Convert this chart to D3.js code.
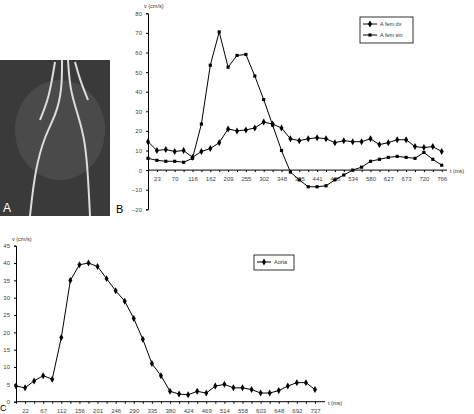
<!DOCTYPE html>
<html>
<head>
<meta charset="utf-8">
<script src="https://cdnjs.cloudflare.com/ajax/libs/d3/7.8.5/d3.min.js"></script>
<style>
  body { margin: 0; background: #fff; }
  svg { font-family: "Liberation Sans", Arial, sans-serif; }
  .tick text { font-size: 6px; fill: #444; }
</style>
</head>
<body>
<svg id="svg" width="474" height="414"></svg>
<script>
// panel B: femoral arteries, 34 frames
const femTicks = ['23','70','116','162','209','255','302','348','395','441','488','534','580','627','673','720','766'];
const femDx = [14.5,10,10.5,9.5,10,6.5,9.5,11,14,21,20,20.5,21.5,24.5,23.5,21.5,16,15,16,16.5,16,14,15,14.5,14.5,16,13,14,15.5,15.5,12,11.5,12,9.5];
const femSin = [6,5,4.5,4.5,4,6,23.5,53.5,70.5,52.5,58.5,59,48,36,23,10,-1,-5,-8.5,-8.5,-8,-5,-2.5,0,1.5,4.5,5.5,6.5,7,6.5,6,9,5.5,2.5];
// panel C: aorta
const aoTicks = ['22','67','112','156','201','246','290','335','380','424','469','514','558','603','648','692','737'];
const aorta = [4.5,4,6,7.5,6.5,18.5,35,39.5,40,39,35.5,32,29,24,18,11,7.5,3,2.2,2,3,2.5,4.5,5,4,4,3.5,2.5,2.5,3.2,4.5,5.5,5.5,3.5];

const svg = d3.select('#svg');

// panel A placeholder image (angiogram)
const gA = svg.append('g');
gA.append('rect').attr('x', 0).attr('y', 60).attr('width', 110).attr('height', 156).attr('fill', '#3a3a3a');
gA.append('ellipse').attr('cx', 60).attr('cy', 130).attr('rx', 45).attr('ry', 50).attr('fill', '#555').attr('opacity', 0.6);
const vessel = d3.line().curve(d3.curveBasis);
[[[62,60],[62,90],[56,115],[45,135],[35,170],[30,216]],
 [[68,60],[70,90],[78,115],[85,140],[88,175],[90,216]],
 [[55,62],[52,80],[48,100],[40,120]],
 [[75,62],[80,80],[88,100]]].forEach(p => {
  gA.append('path').attr('d', vessel(p)).attr('fill', 'none').attr('stroke', '#ddd').attr('stroke-width', 2);
});
svg.append('text').attr('x', 3).attr('y', 212).attr('fill', '#fff').attr('font-size', 12).text('A');

function drawLine(g, x, y, data, shape) {
  g.append('path').datum(data)
    .attr('fill', 'none').attr('stroke', '#000').attr('stroke-width', 1)
    .attr('d', d3.line().x((d, i) => x(i)).y(d => y(d)));
  g.selectAll(null).data(data).enter().append('path')
    .attr('transform', (d, i) => `translate(${x(i)},${y(d)})`)
    .attr('d', d3.symbol().type(shape).size(shape === d3.symbolSquare ? 10 : 14))
    .attr('fill', '#000');
}

function panel(o) {
  const g = svg.append('g');
  const x = d3.scaleLinear().domain([0, 33]).range([o.x0, o.x0 + 33 * o.step]);
  const y = d3.scaleLinear().domain(o.yDom).range([o.y1, o.y0]);
  g.append('g').attr('transform', `translate(${o.x0},0)`)
    .call(d3.axisLeft(y).tickValues(d3.range(o.yDom[0], o.yDom[1] + 1, o.yStep)).tickSize(2).tickPadding(4))
    .call(a => a.select('.domain').attr('stroke', '#000'));
  const xa = g.append('g').attr('transform', `translate(0,${y(0)})`)
    .call(d3.axisBottom(x).tickValues(d3.range(1, 34, 2)).tickFormat((d, i) => o.ticks[i]).tickSize(2).tickPadding(5));
  xa.select('.domain').attr('d', `M${o.x0},0H${o.xEnd}`).attr('stroke', '#000');
  xa.selectAll('.tick line').clone().attr('transform', `translate(${-o.step},0)`);
  g.append('text').attr('x', o.x0 - 4).attr('y', o.y0 - 5).attr('font-size', 5.5).attr('fill', '#333').text('v (cm/s)');
  g.append('text').attr('x', o.xEnd + 3).attr('y', y(0) + 3).attr('font-size', 5.5).attr('fill', '#333').text('t (ms)');
  o.series.forEach(s => drawLine(g, x, y, s.data, s.shape));
  const lg = g.append('g');
  lg.append('rect').attr('x', o.lx).attr('y', o.ly).attr('width', o.lw).attr('height', o.series.length * 11 + 4)
    .attr('fill', '#fff').attr('stroke', '#000').attr('stroke-width', 0.8);
  o.series.forEach((s, i) => {
    const yy = o.ly + 7 + i * 11;
    lg.append('line').attr('x1', o.lx + 3).attr('x2', o.lx + 17).attr('y1', yy).attr('y2', yy).attr('stroke', '#000');
    lg.append('path').attr('transform', `translate(${o.lx + 10},${yy})`)
      .attr('d', d3.symbol().type(s.shape).size(s.shape === d3.symbolSquare ? 10 : 14));
    lg.append('text').attr('x', o.lx + 20).attr('y', yy + 2).attr('font-size', 5.5).attr('fill', '#333').text(s.name);
  });
}

panel({
  x0: 148, step: 8.9, xEnd: 447, y0: 13.3, y1: 209.3, yDom: [-20, 80], yStep: 10, ticks: femTicks,
  series: [{ name: 'A fem dx', data: femDx, shape: d3.symbolDiamond },
           { name: 'A fem sin', data: femSin, shape: d3.symbolSquare }],
  lx: 360, ly: 17, lw: 53
});
svg.append('text').attr('x', 116).attr('y', 213).attr('font-size', 11).attr('fill', '#000').text('B');

panel({
  x0: 16, step: 9.06, xEnd: 325, y0: 245.7, y1: 401.7, yDom: [0, 45], yStep: 5, ticks: aoTicks,
  series: [{ name: 'Aorta', data: aorta, shape: d3.symbolDiamond }],
  lx: 254, ly: 255, lw: 40
});
svg.append('text').attr('x', 0).attr('y', 411).attr('font-size', 9).attr('fill', '#000').text('C');
</script>
</body>
</html>
